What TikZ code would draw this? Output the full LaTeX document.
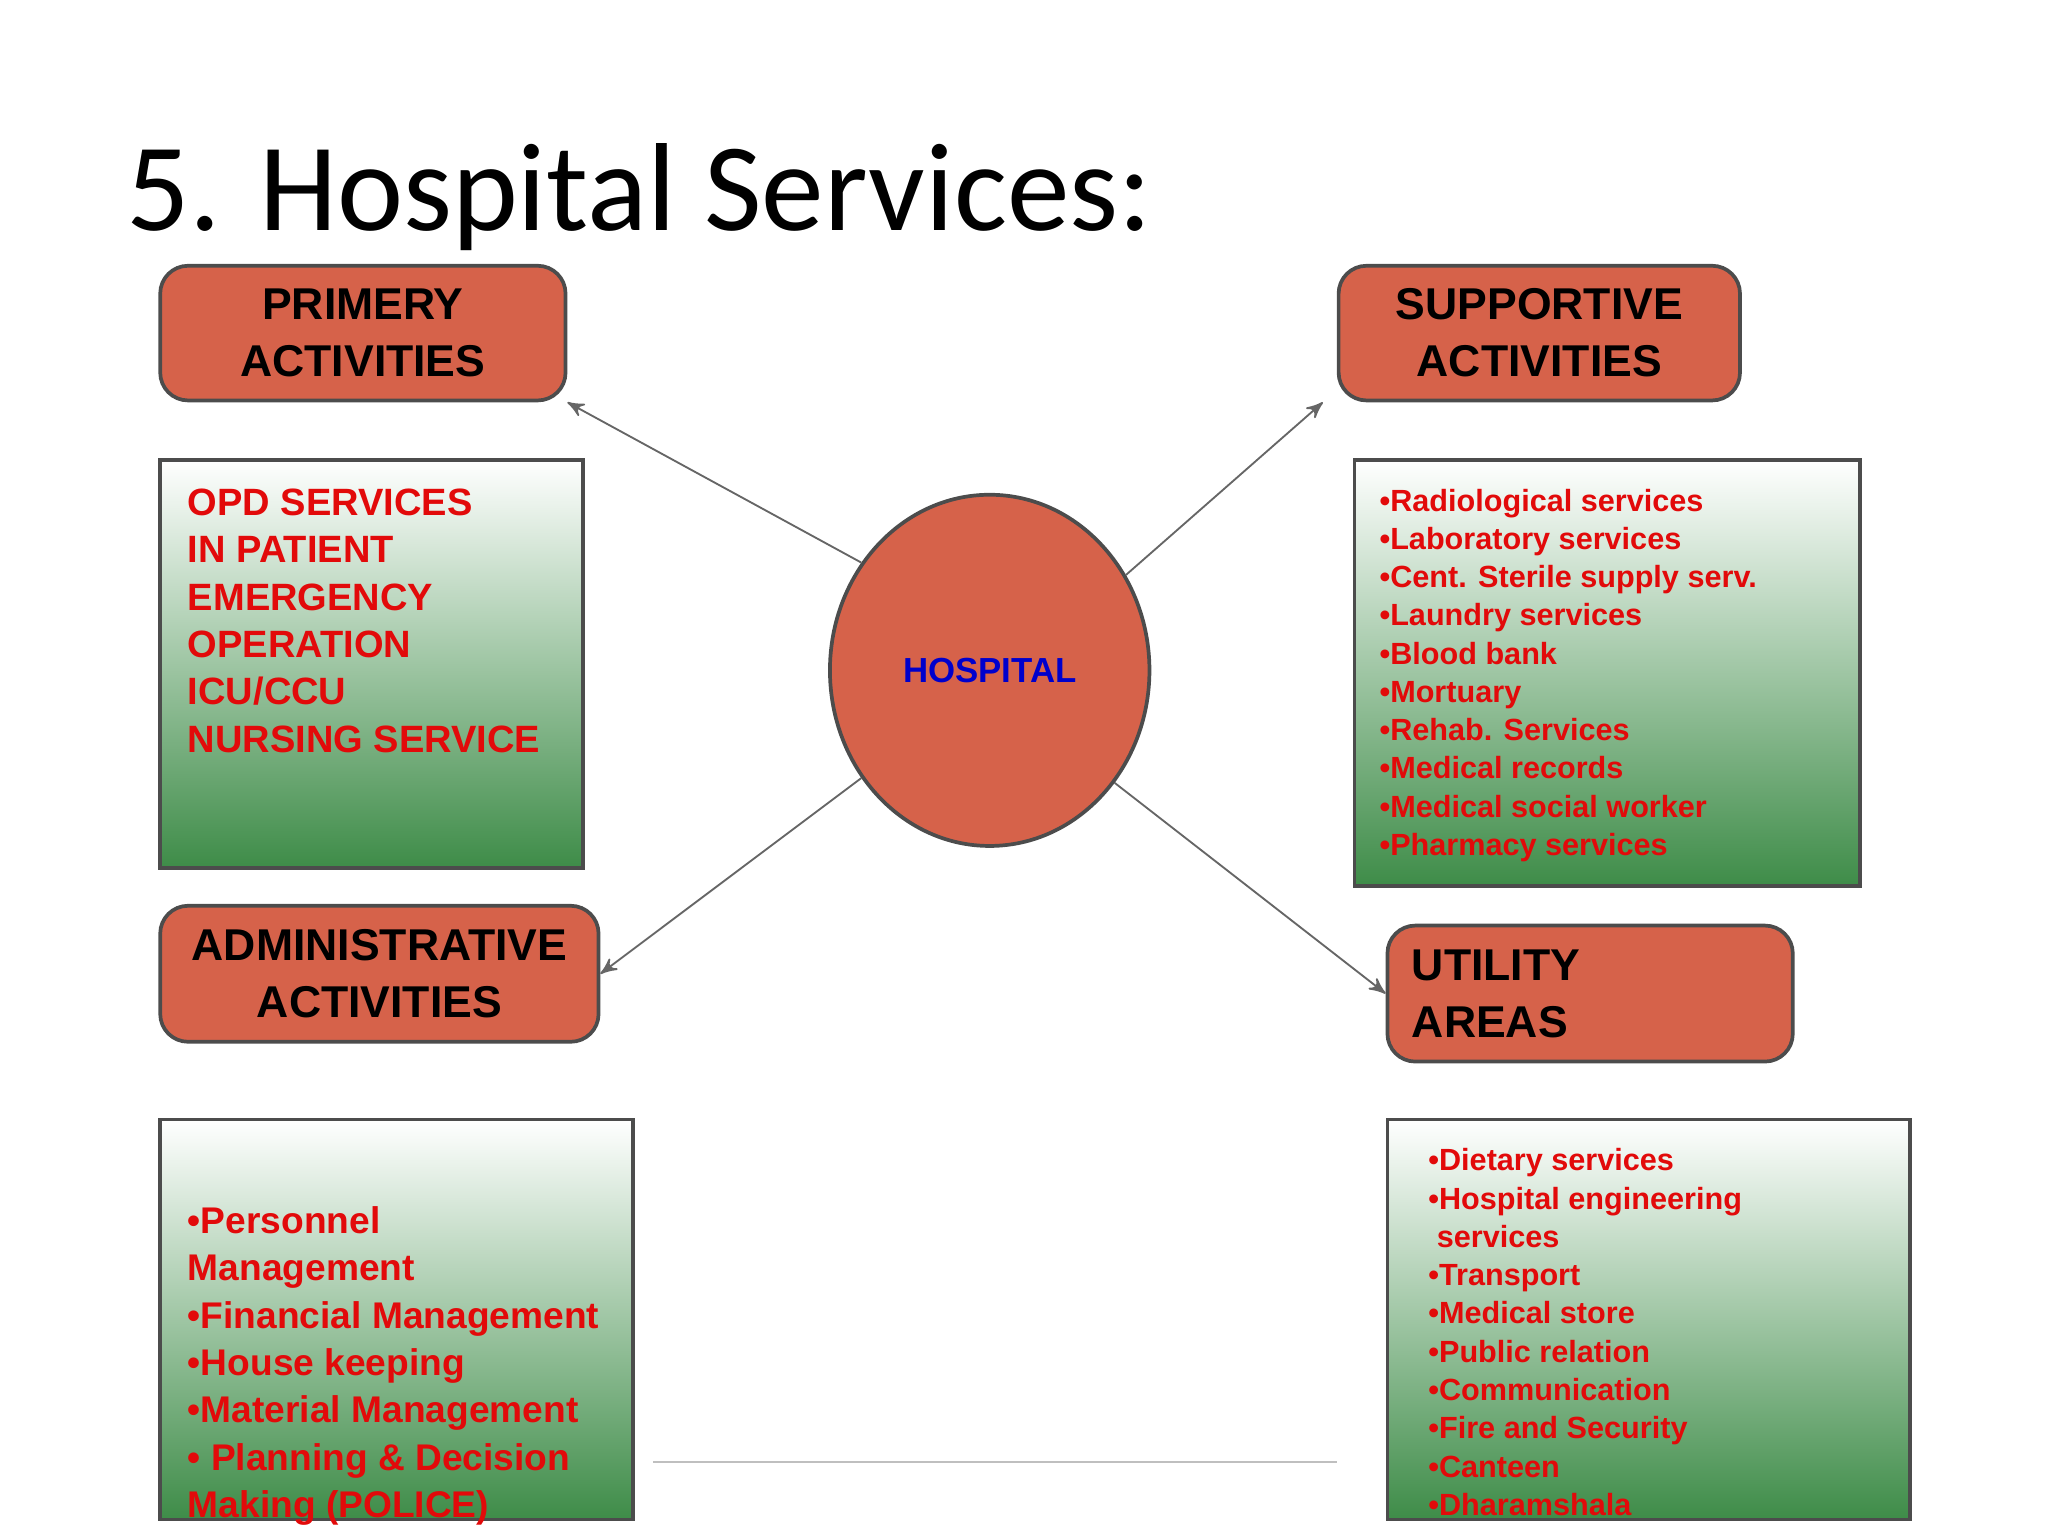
\documentclass[tikz,border=0pt]{standalone}
\usepackage{fontspec}
\setmainfont{Carlito}
\newfontfamily\boxfont{Liberation Sans}
\usetikzlibrary{shapes.geometric,arrows,positioning}
\definecolor{boxred}{RGB}{214,98,74}
\definecolor{listgreen}{RGB}{62,140,72}
\definecolor{listred}{RGB}{226,10,10}
\tikzset{
  headbox/.style={rectangle, draw=black!70, thick, fill=boxred, rounded corners=6pt, anchor=north west, align=center, font=\boxfont\bfseries\fontsize{9.6}{12.3}\selectfont},
  listbox/.style={rectangle, draw=black!70, thick, top color=white, bottom color=listgreen, anchor=north west},
  listtext/.style={anchor=north west, align=left, text=listred, font=\boxfont\bfseries},
  link/.style={->, >=stealth', draw=black!60, thin}
}
\begin{document}
\begin{tikzpicture}[x=0.01cm, y=-0.01cm]
    \useasboundingbox (0,0) rectangle (1552,1164);
    % Title
    \node (title) [anchor=base west, inner sep=0pt, font=\fontsize{27}{30}\selectfont] at (95,175) {5. Hospital Services:};

    % Headers
    \node (prim) [headbox, minimum width=3.07cm, minimum height=1.02cm] at (120,200) {PRIMERY\\ACTIVITIES};
    \node (supp) [headbox, minimum width=3.04cm, minimum height=1.02cm] at (1013,200) {SUPPORTIVE\\ACTIVITIES};
    \node (admin) [headbox, minimum width=3.32cm, minimum height=1.03cm] at (120,685) {ADMINISTRATIVE\\ACTIVITIES};
    \node (util) [headbox, minimum width=3.07cm, minimum height=1.03cm, align=left, text width=2.7cm] at (1050,700) {UTILITY\\AREAS};

    % Lists
    \node (primlist) [listbox, minimum width=3.2cm, minimum height=3.09cm] at (120,347) {};
    \node [listtext, font=\boxfont\bfseries\fontsize{8.2}{10.2}\selectfont] at (130,358) {OPD SERVICES\\IN PATIENT\\EMERGENCY\\OPERATION\\ICU/CCU\\NURSING SERVICE};
    \node (supplist) [listbox, minimum width=3.83cm, minimum height=3.23cm] at (1025,347) {};
    \node [listtext, font=\boxfont\bfseries\fontsize{6.6}{8.25}\selectfont] at (1033,358) {•Radiological services\\•Laboratory services\\•Cent. Sterile supply serv.\\•Laundry services\\•Blood bank\\•Mortuary\\•Rehab. Services\\•Medical records\\•Medical social worker\\•Pharmacy services};
    \node (adminlist) [listbox, minimum width=3.58cm, minimum height=3.03cm] at (120,847) {};
    \node [listtext, font=\boxfont\bfseries\fontsize{8}{10.2}\selectfont] at (130,902) {•Personnel\\Management\\•Financial Management\\•House keeping\\•Material Management\\• Planning \& Decision\\Making (POLICE)};
    \node (utillist) [listbox, minimum width=3.96cm, minimum height=3.03cm] at (1050,847) {};
    \node [listtext, font=\boxfont\bfseries\fontsize{6.6}{8.25}\selectfont] at (1070,858) {•Dietary services\\•Hospital engineering\\\ services\\•Transport\\•Medical store\\•Public relation\\•Communication\\•Fire and Security\\•Canteen\\•Dharamshala};

    % Centre
    \node (hosp) [ellipse, draw=black!70, thick, fill=boxred, minimum width=2.42cm, minimum height=2.66cm, text=blue!80!black, font=\boxfont\bfseries\fontsize{7.5}{9}\selectfont] at (750,508) {HOSPITAL};

    % Links
    \draw[link] (hosp.140) -- (prim.south east);
    \draw[link] (hosp.35) -- ([xshift=-3pt]supp.south west);
    \draw[link] (hosp.220) -- (admin.east);
    \draw[link] (hosp.318) -- (util.west);
    \draw[black!25] (495,1108) -- (1013,1108);
\end{tikzpicture}
\end{document}
